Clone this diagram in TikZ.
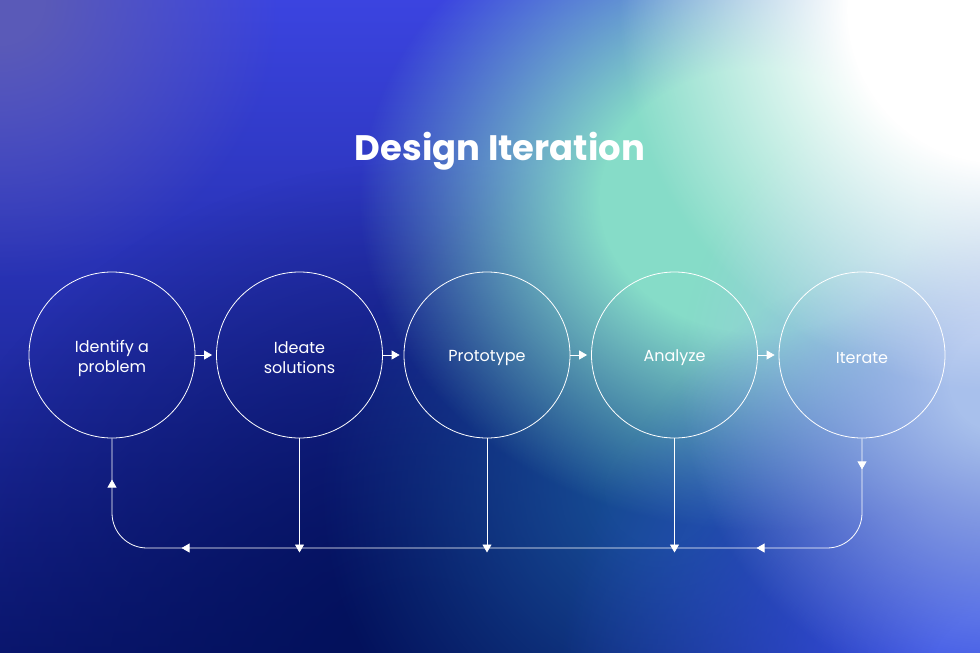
\documentclass[tikz,border=0pt]{standalone}
\usepackage{fontspec}
\setmainfont{Poppins}
\usetikzlibrary{arrows.meta,positioning,fadings,decorations.markings}

\definecolor{topblue}{HTML}{3B44E0}
\definecolor{vividblue}{HTML}{2428D8}
\definecolor{deepnavy}{HTML}{0C1874}
\definecolor{nightblue}{HTML}{03115C}
\definecolor{lavender}{HTML}{5A5AB8}
\definecolor{seablue}{HTML}{164A92}
\definecolor{brightblue}{HTML}{3A52E6}
\definecolor{mint}{HTML}{86DCC8}
\definecolor{paleblue}{HTML}{A8C0EC}

% soft round glows
\pgfdeclareradialshading{spotshade}{\pgfpointorigin}{color(0bp)=(pgftransparent!0); color(4bp)=(pgftransparent!0); color(25bp)=(pgftransparent!100); color(50bp)=(pgftransparent!100)}
\pgfdeclarefading{spot}{\pgfuseshading{spotshade}}
\pgfdeclareradialshading{patchshade}{\pgfpointorigin}{color(0bp)=(pgftransparent!0); color(10bp)=(pgftransparent!0); color(25bp)=(pgftransparent!100); color(50bp)=(pgftransparent!100)}
\pgfdeclarefading{patch}{\pgfuseshading{patchshade}}

\begin{document}
\begin{tikzpicture}[
    x=1pt, y=-1pt,
    stage/.style={circle, draw=white, line width=0.8pt, minimum size=166pt, inner sep=0pt,
        label={[stagetext]center:{#1}}},
    stagetext/.style={text=white, align=center, yshift=-3pt, font=\fontsize{16}{20}\selectfont},
    title/.style={text=white, font=\fontsize{35.4}{40}\selectfont\bfseries},
    flow/.style={-{Triangle[length=8pt,width=9pt]}, draw=white, line width=0.8pt},
    loopline/.style={draw=white, line width=0.8pt, rounded corners=35pt, postaction=decorate,
        decoration={markings,
            mark=at position 31pt with {\arrow[white]{Triangle[length=8pt,width=9pt]}},
            mark=at position 200pt with {\arrow[white]{Triangle[length=8pt,width=9pt]}},
            mark=at position 775pt with {\arrow[white]{Triangle[length=8pt,width=9pt]}},
            mark=at position 898pt with {\arrow[white]{Triangle[length=8pt,width=9pt]}}}},
    glow/.style={path fading=spot},
    haze/.style={path fading=patch}
]

% Background
\useasboundingbox (0,0) rectangle (980,653);
\shade[top color=topblue, middle color=vividblue, bottom color=deepnavy] (0,0) rectangle (980,653);
\begin{scope}
\clip (0,0) rectangle (980,653);
\fill[lavender, glow] (0,0) circle (280);
\fill[nightblue, glow] (420,700) circle (540);
\fill[seablue, glow] (660,490) circle (340);
\fill[mint, haze] (760,200) ellipse (400 and 330);
\fill[brightblue, glow] (1000,680) circle (440);
\fill[paleblue, glow] (1000,380) circle (320);
\fill[white, haze] (1000,10) circle (380);
\end{scope}

% Title
\node[title] (ttl) at (500,151) {Design Iteration};

% Stages
\node[stage={Identify a\\problem}] (idf) at (112,355) {};
\node[stage={Ideate\\solutions}, right=20.7pt of idf] (ide) {};
\node[stage={Prototype}, right=20.7pt of ide] (pro) {};
\node[stage={Analyze}, right=20.7pt of pro] (ana) {};
\node[stage={Iterate}, right=20.7pt of ana] (itr) {};

% Connections
\draw[flow, shorten >=4pt] (idf) -- (ide);
\draw[flow, shorten >=4pt] (ide) -- (pro);
\draw[flow, shorten >=4pt] (pro) -- (ana);
\draw[flow, shorten >=4pt] (ana) -- (itr);

% Feedback loop
\coordinate (base) at (0,548);
\draw[loopline] (itr.south) -- (itr.south |- base) -- (idf.south |- base) -- (idf.south);
\draw[flow, shorten >=-4.5pt] (ide.south) -- (ide.south |- base);
\draw[flow, shorten >=-4.5pt] (pro.south) -- (pro.south |- base);
\draw[flow, shorten >=-4.5pt] (ana.south) -- (ana.south |- base);

\end{tikzpicture}
\end{document}
